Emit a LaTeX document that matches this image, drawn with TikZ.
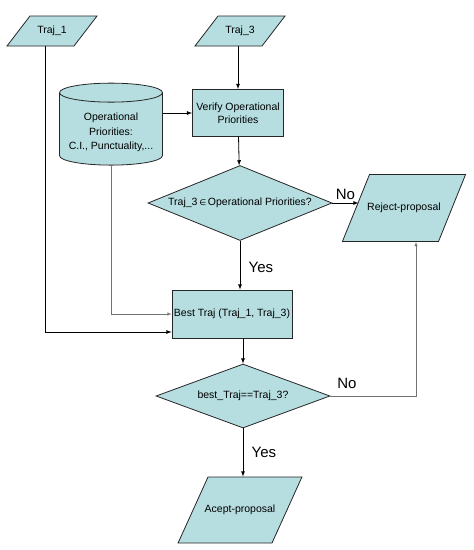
\documentclass[tikz,border=0pt]{standalone}
\usepackage{fontspec}
\setmainfont{Liberation Sans}
\usetikzlibrary{shapes.geometric,arrows,positioning,calc}
\definecolor{boxfill}{RGB}{182,221,224}
\newcommand{\iotext}[1]{\makebox[0pt]{#1}}

\begin{document}
\begin{tikzpicture}[x=1pt,y=-1pt,
  font=\fontsize{10.5}{12.5}\selectfont,
  base/.style={draw=black!85,fill=boxfill,line width=0.8pt,align=center,inner sep=1pt},
  iobox/.style={base,trapezium,trapezium left angle=#1,trapezium right angle={180-#1},text height=7.5pt,text depth=2.5pt},
  procbox/.style={base,rectangle},
  decision/.style={base,diamond,inner sep=0pt},
  store/.style={base,cylinder,shape border rotate=90,aspect=0.22},
  flow/.style={-latex,line width=0.8pt},
  thinflow/.style={-latex,draw=black!55,line width=0.5pt},
  answer/.style={font=\fontsize{15}{17}\selectfont}]
  \useasboundingbox (0,0) rectangle (474,550);
  \node[iobox=52.5,inner xsep=22pt,inner ysep=10pt] (traj1) at (52,31) {\iotext{Traj\_1}};
  \node[iobox=52.5,inner xsep=22pt,inner ysep=10pt] (traj3) at (240,31) {\iotext{Traj\_3}};
  \node[procbox,minimum width=91pt,minimum height=47pt] (verify) at (238,113) {Verify Operational\\Priorities};
  \node[store,minimum width=103pt,minimum height=82pt,font=\fontsize{10.5}{14.5}\selectfont] (prio) at (111,130) {\mbox{}\\[-2pt]Operational\\Priorities:\\C.I., Punctuality,...};
  \node[decision,aspect=2.45,minimum width=184pt,minimum height=75pt] (q1) at (240,203) {Traj\_3\,{\fontspec{DejaVu Sans}\fontsize{8}{9}\selectfont ∈}\,Operational Priorities?};
  \node[iobox=68,inner xsep=34.5pt,inner ysep=28.5pt] (reject) at (404,208) {\iotext{Reject-proposal}};
  \node[procbox,minimum width=120pt,minimum height=48pt] (best) at (232,314) {Best Traj (Traj\_1, Traj\_3)};
  \node[decision,aspect=2.7,minimum width=174pt,minimum height=64pt] (q2) at (243,396) {best\_Traj==Traj\_3?};
  \node[iobox=65.6,inner xsep=32pt,inner ysep=28pt] (accept) at (240,510) {\iotext{Acept-proposal}};
  % main flow
  \draw[flow] (traj3.south -| verify) -- (verify);
  \draw[flow] (verify.west -| prio.east) -- (verify.west);
  \draw[flow] (verify) -- (q1);
  \draw[flow] (q1.east) -- node[answer,above]{No} ($(q1.east -| reject.west)+(3,0)$);
  \draw[flow] (q1) -- node[answer,right=5pt,pos=0.55]{Yes} (q1 |- best.north);
  \draw[thinflow] (prio.south) |- (best.west);
  \draw[flow] ([xshift=-7pt]traj1.south) |- ([yshift=-18pt]best.west);
  \draw[flow] (best.south -| q2) -- (q2);
  \draw[thinflow] (q2.east) -| ([xshift=12pt]reject.south);
  \node[answer] at (347,383) {No};
  \draw[flow] (q2) -- node[answer,right=5pt,pos=0.5]{Yes} (q2 |- accept.north);
\end{tikzpicture}
\end{document}
